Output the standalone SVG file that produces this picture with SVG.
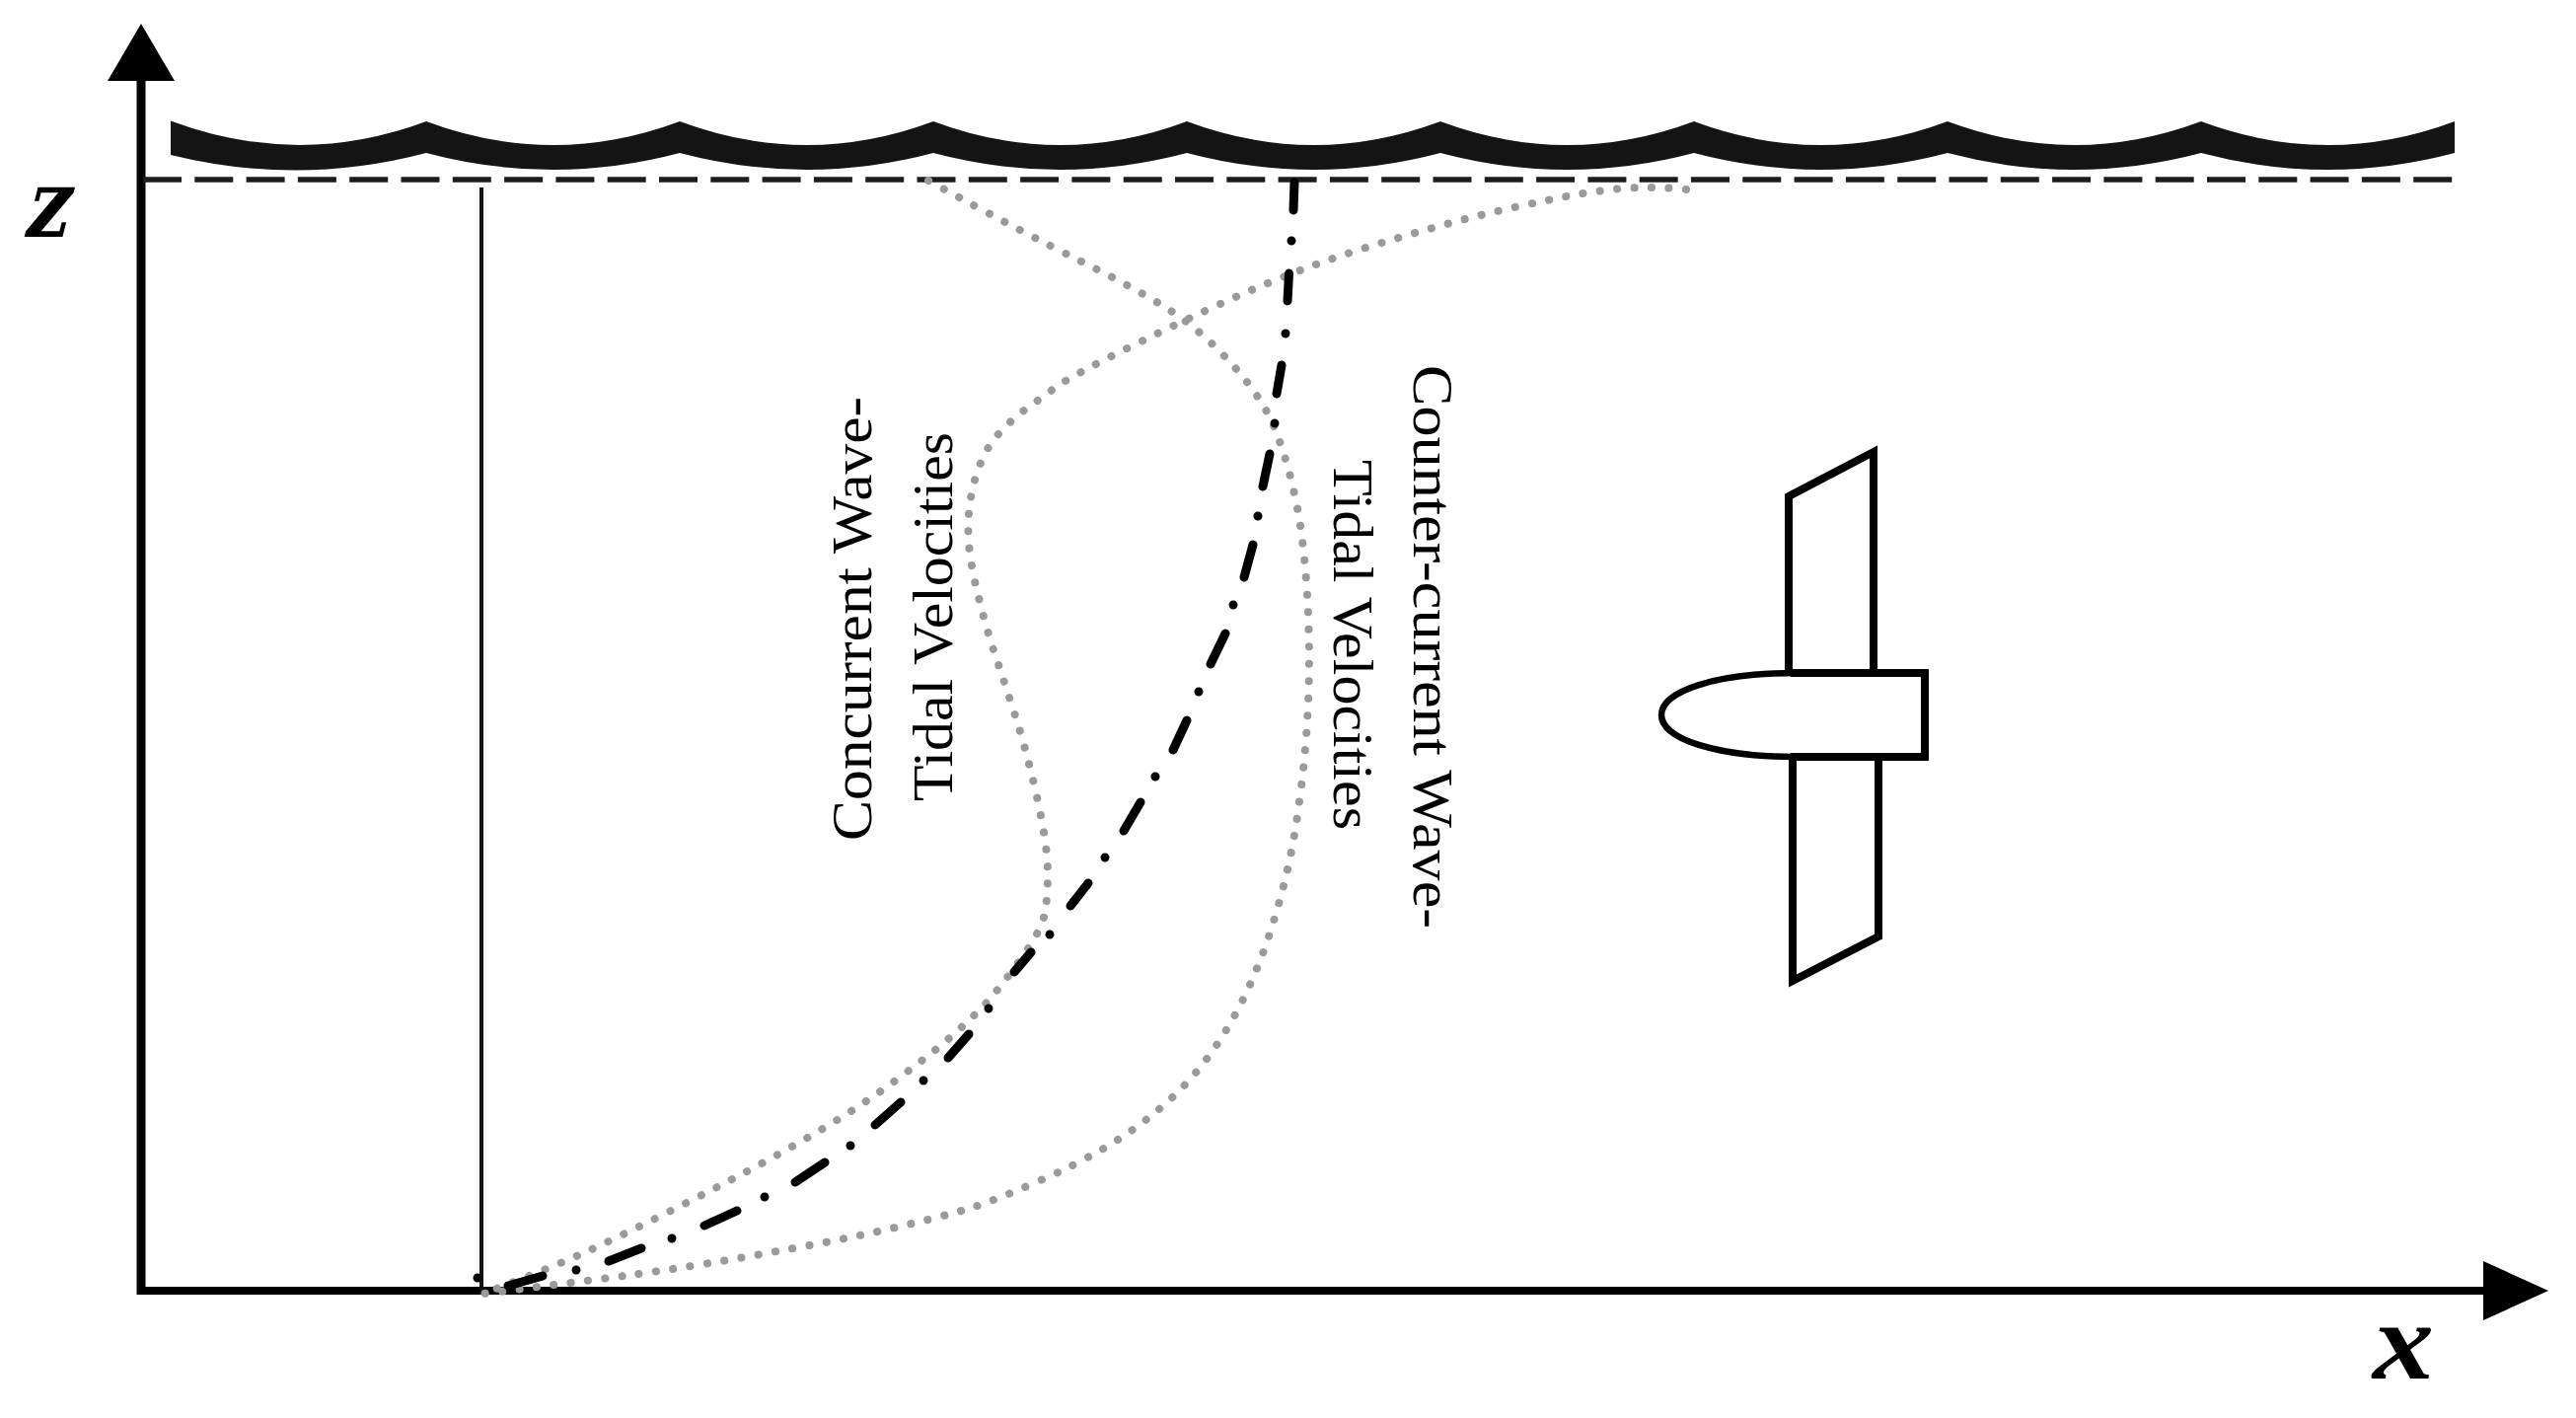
<svg xmlns="http://www.w3.org/2000/svg" width="2611" height="1437" viewBox="0 0 2611 1437">
<style>
.lab{font-family:"Liberation Serif","Times New Roman",serif;font-size:58px;fill:#000}
.axl{font-family:"Liberation Serif","Times New Roman",serif;font-weight:bold;font-style:italic;font-size:112px;fill:#000}
.axz{font-family:"DejaVu Serif","Liberation Serif",serif;font-weight:bold;font-size:97px;fill:#000}
.axis{fill:none;stroke:#000;stroke-width:8}
.grey{fill:none;stroke:#9a9a9a;stroke-width:8;stroke-linecap:round;stroke-dasharray:.1 17.400}
.blade{fill:#fff;stroke:#000;stroke-width:8;stroke-linejoin:miter}
</style>
<defs>
<marker id="headZ" markerUnits="userSpaceOnUse" markerWidth="58" markerHeight="68" refX="0" refY="34" orient="auto" viewBox="0 0 58 68"><path d="M0 0L58 34L0 68Z" fill="#000"/></marker>
<marker id="headX" markerUnits="userSpaceOnUse" markerWidth="66" markerHeight="60" refX="0" refY="30" orient="auto" viewBox="0 0 66 60"><path d="M0 0L66 30L0 60Z" fill="#000"/></marker>
</defs>
<rect width="2611" height="1437" fill="#fff"/>
<g id="water">
<path fill="#141414" d="M173 122.500q130 48.500 259 .5q128.500 48 257 0q128.500 48 257 0q128.500 48 257 0q128.500 48 257 0q128.500 48 257 0q128.500 48 257 0q128.500 48 257 0q128.500 48 257 0v32q-128.500 34 -257 0q-128.500 34 -257 0q-128.500 34 -257 0q-128.500 34 -257 0q-128.500 34 -257 0q-128.500 34 -257 0q-128.500 34 -257 0q-128.500 34 -257 0q-129 34 -259 2z"/>
</g>
<g id="connectors">
<path id="z-axis" class="axis" style="stroke-width:9" d="M143 1312V82" marker-end="url(#headZ)"/>
<path id="x-axis" class="axis" d="M139 1308H2517" marker-end="url(#headX)"/>
<path id="surface" fill="none" stroke="#1c1c1c" stroke-width="5.500" stroke-dasharray="39 13.300" d="M145 182H2489"/>
<path id="depth" fill="none" stroke="#111" stroke-width="4" d="M488 190V1312"/>
<path id="counter-current" class="grey" d="M941 183Q1032 233 1099 266.500Q1166 300 1195.500 321Q1225 342 1253.500 374.500Q1282 407 1294 439Q1306 471 1313.500 507.500Q1321 544 1324.500 595Q1328 646 1326.500 697Q1325 748 1319 797Q1313 846 1305.500 879Q1298 912 1287.500 944.500Q1277 977 1262 1008.500Q1247 1040 1226.500 1068.500Q1206 1097 1179 1120.500Q1152 1144 1120 1163Q1088 1182 1048 1199Q1009 1216 987.500 1223Q966 1230 920 1241Q874 1252 818 1262.500Q762 1273 716 1280.500Q670 1288 632 1293Q594 1298 490 1311"/>
<path id="concurrent" class="grey" d="M1709 192Q1690 190 1671.500 190Q1653 190 1634 192Q1615 194 1596 197.500Q1577 201 1540 209Q1503 217 1466.500 227Q1430 237 1394 248Q1358 259 1323 272Q1288 285 1243.500 305Q1199 325 1142.500 353Q1086 381 1071.500 391.500Q1057 402 1042.500 412.500Q1028 423 1015.500 436Q1003 449 996 464.500Q989 480 985.500 496.500Q982 513 981.500 530Q981 547 983.500 564Q986 581 990 597.500Q994 614 998.500 630.500Q1003 647 1008.500 663Q1014 679 1027.500 720.500Q1041 762 1051.500 810Q1062 858 1062 884.500Q1062 911 1058.500 927.500Q1055 944 1033.500 973.500Q1012 1003 999.500 1016.500Q987 1030 967.500 1047.500Q948 1065 911 1092.500Q874 1120 834.500 1143.500Q795 1167 754.500 1188.500Q714 1210 672 1231Q630 1252 596.500 1267.500Q563 1283 490 1311"/>
<path id="mean-profile" fill="none" stroke="#000" stroke-width="9" stroke-linecap="round" d="M515 1303L550 1293M584 1287h.01M617 1278L650 1265M681 1255h.01M714 1242L747 1227M775 1213h.01M806 1198L836 1178M862 1161h.01M887 1140L913 1117M936 1095h.01M961 1072L982 1048M1002 1022h.01M1028 985L1045 965M1064 947h.01M1085 918L1103 895M1120 869h.01M1139 842L1156 813M1171 787h.01M1189 760L1203 730M1215 701h.01M1227 673L1242 642M1250 613h.01M1261 585L1270 552M1275 523h.01M1280 493L1287 460M1292 429h.01M1294 399L1299 370M1303 338h.01M1305 305L1306.500 277M1309 244h.01M1311 213L1312 185M484 1295h.01"/>
</g>
<g id="turbine">
<path class="blade" d="M1813 700V503L1899 458V700Z"/>
<path class="blade" d="M1817 750V994L1904 949V750Z"/>
<path fill="#fff" d="M1951 682H1820C1740 682 1684 700 1684 724.500C1684 749 1740 767 1820 767H1951Z"/>
<path fill="none" stroke="#000" stroke-width="6.500" d="M1820 682C1740 682 1684 700 1684 724.500C1684 749 1740 767 1820 767"/>
<path fill="none" stroke="#000" stroke-width="8" d="M1815 682H1951V767H1815"/>
</g>
<g id="labels">
<text class="lab" transform="translate(883 852) rotate(-90)" textLength="450" lengthAdjust="spacingAndGlyphs">Concurrent Wave-</text>
<text class="lab" transform="translate(965 812) rotate(-90)" textLength="374" lengthAdjust="spacingAndGlyphs">Tidal Velocities</text>
<text class="lab" transform="translate(1433 370) rotate(90)" textLength="571" lengthAdjust="spacingAndGlyphs">Counter-current Wave-</text>
<text class="lab" transform="translate(1352 466) rotate(90)" textLength="375" lengthAdjust="spacingAndGlyphs">Tidal Velocities</text>
<text class="axz" transform="translate(22 240) skewX(-14) scale(.8 1)">z</text>
<text class="axl" x="2405" y="1397" textLength="62" lengthAdjust="spacingAndGlyphs">x</text>
</g>
</svg>
